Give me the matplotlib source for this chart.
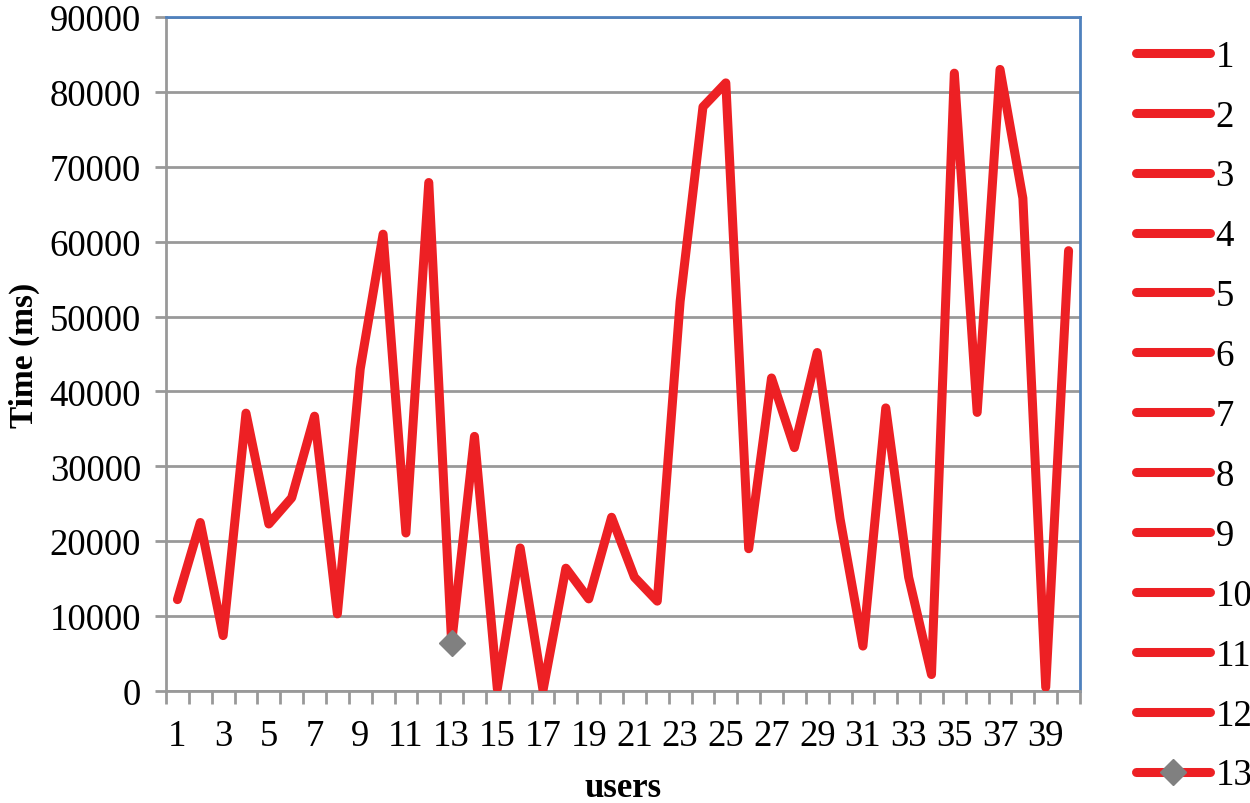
#!/usr/bin/env python3
"""Response time per user (ms), single red series with a 13-entry legend."""
import matplotlib

matplotlib.use("Agg")
import matplotlib.pyplot as plt
from matplotlib.lines import Line2D

users = list(range(1, 41))
time_ms = [
    12200, 22500, 7400, 37100, 22300, 25800, 36700, 10300, 43000, 61000,
    21100, 67900, 6400, 34000, 300, 19100, 100, 16400, 12300, 23200,
    15200, 12000, 52000, 78000, 81200, 19000, 41800, 32500, 45200, 23000,
    6000, 37800, 15200, 2200, 82500, 37200, 83000, 65800, 500, 58800,
]
legend_labels = [str(i) for i in range(1, 14)]
marker_user = 13

RED = "#ED2024"
GREY = "#999999"
BLUE = "#4F81BD"

plt.rcParams["font.family"] = ["Liberation Serif", "DejaVu Serif"]

fig = plt.figure(figsize=(12.5, 8.04), dpi=100)
ax = fig.add_axes([0.1328, 0.1393, 0.7312, 0.8383])

ax.plot(users, time_ms, color=RED, lw=6.5, solid_joinstyle="round",
        solid_capstyle="round", zorder=3)
i = users.index(marker_user)
ax.plot([users[i]], [time_ms[i]], marker="D", ms=13, color="#808080",
        ls="none", zorder=4)

ax.set_xlim(0.5, 40.5)
ax.set_ylim(0, 90000)

# y axis
ax.set_yticks(range(0, 90001, 10000))
ax.yaxis.grid(True, color=GREY, lw=2)
ax.set_axisbelow(True)
ax.tick_params(axis="y", direction="out", length=8, width=2, color=GREY,
               labelsize=26.5, pad=10)

# x axis: ticks between categories, labels on odd users
ax.set_xticks([k + 0.5 for k in range(0, 41)])
ax.set_xticklabels([])
ax.tick_params(axis="x", which="major", direction="out", length=9, width=2,
               color=GREY)
ax.set_xticks([u for u in users if u % 2 == 1], minor=True)
ax.set_xticklabels([str(u) for u in users if u % 2 == 1], minor=True)
ax.tick_params(axis="x", which="minor", length=0, labelsize=26.5, pad=20)

for side in ("left", "bottom"):
    ax.spines[side].set_color(GREY)
    ax.spines[side].set_linewidth(2)
for side in ("top", "right"):
    ax.spines[side].set_color(BLUE)
    ax.spines[side].set_linewidth(2)

ax.set_ylabel("Time (ms)", fontsize=24, fontweight="bold", labelpad=7)
ax.set_xlabel("users", fontsize=25, fontweight="bold", labelpad=13)

handles = []
for lab in legend_labels:
    if lab == str(marker_user):
        h = Line2D([], [], color=RED, lw=6.5, solid_capstyle="round",
                   marker="D", ms=13, mfc="#808080", mec="#808080")
    else:
        h = Line2D([], [], color=RED, lw=6.5, solid_capstyle="round")
    handles.append(h)
fig.legend(handles, legend_labels, loc="upper left",
           bbox_to_anchor=(0.909, 0.95), frameon=False, fontsize=26.5,
           handlelength=2.0, handletextpad=0.15, labelspacing=0.69,
           borderaxespad=0, borderpad=0)

fig.savefig("out.png", dpi=100)
